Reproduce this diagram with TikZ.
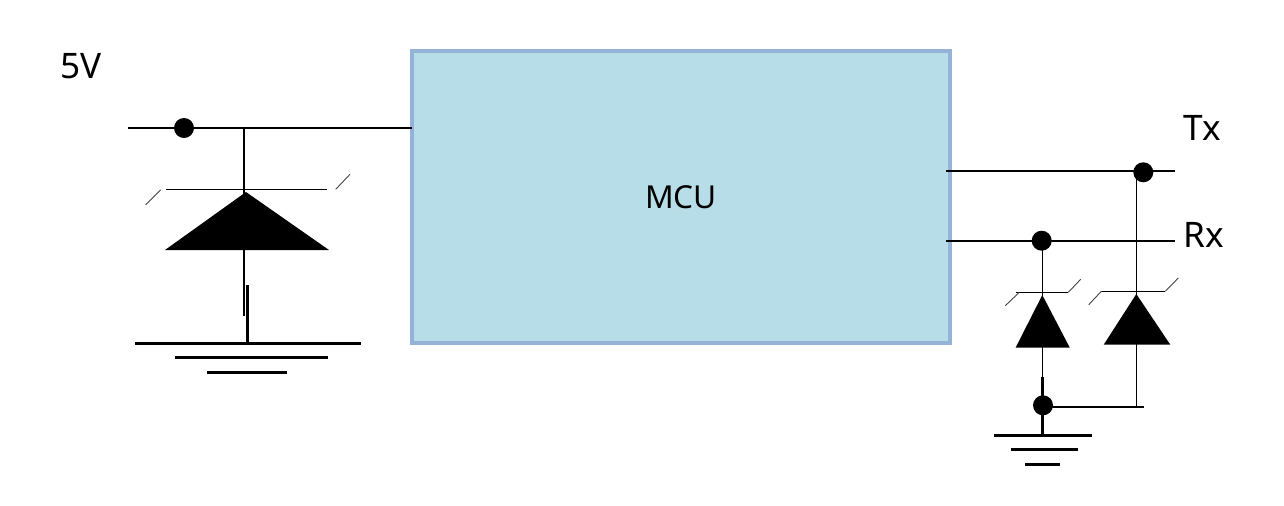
\documentclass[tikz,border=0pt]{standalone}
\usepackage{fontspec}
\setmainfont{Noto Sans}
\tikzset{
  wire/.style={line width=1.25pt, black},
  thinwire/.style={line width=0.8pt, black},
  slash/.style={line width=0.5pt, black!75},
  gnd/.style={line width=1.8pt, black},
  dot/.style={circle, fill=black, inner sep=0pt, minimum size=0.4cm},
  mcubox/.style={draw=mcuborder, fill=mcufill, line width=2.27pt, inner sep=0pt, minimum width=10.76cm, minimum height=5.84cm},
  lbl/.style={inner sep=0pt, font=\fontsize{20}{24}\selectfont},
}
\definecolor{mcufill}{HTML}{B7DDE8}
\definecolor{mcuborder}{HTML}{95B3D7}
\begin{document}
\begin{tikzpicture}[x=0.02cm, y=-0.02cm]
\useasboundingbox (0,0) rectangle (1284,505);
% box and labels
\node[mcubox, font=\fontsize{18}{22}\selectfont] (P_mcu) at (681,197) {MCU};
\node[lbl] (P_5v) at (81,66) {5V};
\node[lbl] (P_tx) at (1202,128) {Tx};
\node[lbl] (P_rx) at (1204,235) {Rx};
% 5V line
\coordinate (P_5v_a) at (128,128);
\coordinate (P_5v_b) at (412,128);
\coordinate (P_5v_j) at (243.8,128);
\coordinate (P_5v_e) at (243.8,316);
\node[dot] (P_5v_dot) at (184,128) {};
\draw[wire] (P_5v_a) -- (P_5v_b);
\draw[thinwire] (P_5v_j) -- (P_5v_e);
% left diode
\coordinate (D_0_t) at (246,192);
\coordinate (D_0_l) at (165,250);
\coordinate (D_0_r) at (329,250);
\coordinate (D_0_a) at (166,189.3);
\coordinate (D_0_b) at (327,189.3);
\coordinate (D_0_c) at (145.7,204.7);
\coordinate (D_0_d) at (160.7,189.7);
\coordinate (D_0_e) at (335.7,189.3);
\coordinate (D_0_f) at (350,174.3);
\fill (D_0_t) -- (D_0_l) -- (D_0_r) -- cycle;
\draw[thinwire] (D_0_a) -- (D_0_b);
\draw[slash] (D_0_c) -- (D_0_d);
\draw[slash] (D_0_e) -- (D_0_f);
% left ground
\coordinate (G_0_s) at (247.5,285);
\coordinate (G_0_j) at (247.5,343.3);
\coordinate (G_0_a) at (135,343.3);
\coordinate (G_0_b) at (361,343.3);
\coordinate (G_0_c) at (175,357.3);
\coordinate (G_0_d) at (328,357.3);
\coordinate (G_0_e) at (207,372.3);
\coordinate (G_0_f) at (287,372.3);
\draw[gnd] (G_0_s) -- (G_0_j);
\draw[gnd] (G_0_a) -- (G_0_b);
\draw[gnd] (G_0_c) -- (G_0_d);
\draw[gnd] (G_0_e) -- (G_0_f);
% Tx and Rx lines
\coordinate (P_tx_a) at (946,170.7);
\coordinate (P_tx_b) at (1175,170.7);
\coordinate (P_rx_a) at (946,240.7);
\coordinate (P_rx_b) at (1175,240.7);
\draw[wire] (P_tx_a) -- (P_tx_b);
\draw[wire] (P_rx_a) -- (P_rx_b);
\node[dot] (P_tx_dot) at (1143.3,172.3) {};
\node[dot] (P_rx_dot) at (1041.7,240.7) {};
\coordinate (P_tx_j) at (1136.6,172);
\coordinate (P_tx_e) at (1136.6,406.7);
\coordinate (P_rx_j) at (1042.6,240.7);
\coordinate (P_rx_e) at (1042.6,377);
\draw[thinwire] (P_tx_j) -- (P_tx_e);
\draw[thinwire] (P_rx_j) -- (P_rx_e);
% Rx diode
\coordinate (D_1_t) at (1042.3,295);
\coordinate (D_1_l) at (1015.7,347.5);
\coordinate (D_1_r) at (1069.7,347.5);
\coordinate (D_1_a) at (1016,292.3);
\coordinate (D_1_b) at (1068.3,292.3);
\coordinate (D_1_c) at (1005.3,305.7);
\coordinate (D_1_d) at (1019.3,292.3);
\coordinate (D_1_e) at (1068.3,292.3);
\coordinate (D_1_f) at (1080.7,279.3);
\fill (D_1_t) -- (D_1_l) -- (D_1_r) -- cycle;
\draw[thinwire] (D_1_a) -- (D_1_b);
\draw[slash] (D_1_c) -- (D_1_d);
\draw[slash] (D_1_e) -- (D_1_f);
% Tx diode
\coordinate (D_2_t) at (1136.3,294);
\coordinate (D_2_l) at (1103.7,344.7);
\coordinate (D_2_r) at (1170.3,344.7);
\coordinate (D_2_a) at (1100.7,291.3);
\coordinate (D_2_b) at (1165.3,291.3);
\coordinate (D_2_c) at (1088.7,304.7);
\coordinate (D_2_d) at (1101.3,291.3);
\coordinate (D_2_e) at (1165.3,291.3);
\coordinate (D_2_f) at (1178.3,278);
\fill (D_2_t) -- (D_2_l) -- (D_2_r) -- cycle;
\draw[thinwire] (D_2_a) -- (D_2_b);
\draw[slash] (D_2_c) -- (D_2_d);
\draw[slash] (D_2_e) -- (D_2_f);
% right ground
\coordinate (G_1_s) at (1042.5,377);
\coordinate (G_1_j) at (1042.5,435.3);
\coordinate (G_1_a) at (994,435.3);
\coordinate (G_1_b) at (1092,435.3);
\coordinate (G_1_c) at (1011,449.3);
\coordinate (G_1_d) at (1078,449.3);
\coordinate (G_1_e) at (1025,464.3);
\coordinate (G_1_f) at (1060,464.3);
\coordinate (G_1_k) at (1043,406.7);
\coordinate (G_1_m) at (1143.7,406.7);
\node[dot] (G_1_dot) at (1043,405.3) {};
\draw[wire] (G_1_k) -- (G_1_m);
\draw[gnd] (G_1_s) -- (G_1_j);
\draw[gnd] (G_1_a) -- (G_1_b);
\draw[gnd] (G_1_c) -- (G_1_d);
\draw[gnd] (G_1_e) -- (G_1_f);
\end{tikzpicture}
\end{document}
